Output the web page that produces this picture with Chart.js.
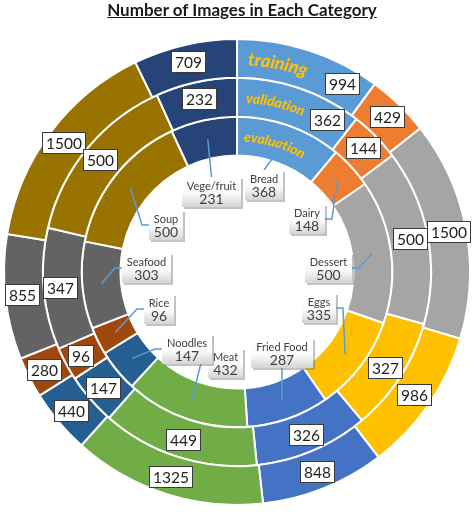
<!DOCTYPE html>
<html><head><meta charset="utf-8">
<script src="https://cdn.jsdelivr.net/npm/chart.js@4.4.0/dist/chart.umd.min.js"></script>
<style>
html,body{margin:0;padding:0;background:#fff;}
#wrap{position:relative;width:474px;height:512px;overflow:hidden;}
#title{position:absolute;top:0px;left:10px;width:464px;text-align:center;font:bold 17px Lato, "Open Sans", sans-serif;text-decoration:underline;color:#1a1a1a;line-height:20px;}
canvas{position:absolute;left:0;top:0;}
</style></head><body>
<div id="wrap"><canvas id="c" width="474" height="512"></canvas><div id="title">Number of Images in Each Category</div></div>
<script>
const categories = ['Bread','Dairy','Dessert','Eggs','Fried Food','Meat','Noodles','Rice','Seafood','Soup','Vege/fruit'];
const training   = [994, 429, 1500, 986, 848, 1325, 440, 280, 855, 1500, 709];
const validation = [362, 144, 500, 327, 326, 449, 147, 96, 347, 500, 232];
const evaluation = [368, 148, 500, 335, 287, 432, 147, 96, 303, 500, 231];
const ringNames  = ['training', 'validation', 'evaluation'];
const colors = ['#5B9BD5','#ED7D31','#A5A5A5','#FFC000','#4472C4','#70AD47','#255E91','#9E480E','#636363','#997300','#264478'];

// callout placement for the inner ring labels: [angle shift from slice middle (deg), radius as fraction of hole radius]
const calloutPlace = {
  'Bread':[-2.5,0.78], 'Dairy':[5.5,0.75], 'Dessert':[5.4,0.79], 'Eggs':[-13.3,0.77],
  'Fried Food':[-9.7,0.79], 'Meat':[-12,0.79], 'Noodles':[-17.6,0.79], 'Rice':[1,0.74],
  'Seafood':[7.7,0.78], 'Soup':[-4.8,0.73], 'Vege/fruit':[-5.6,0.72]
};
const FONT = 'Lato, "Open Sans", sans-serif';

const labelPlugin = {
  id: 'ringLabels',
  afterDatasetsDraw(chart) {
    const ctx = chart.ctx;
    ctx.save();
    // ring names along the arc of the first slice
    [0,1,2].forEach(di => {
      const arc = chart.getDatasetMeta(di).data[0];
      const p = arc.getProps(['x','y','startAngle','endAngle','innerRadius','outerRadius'], true);
      const r = (p.innerRadius + p.outerRadius) / 2 - 1;
      const size = di === 0 ? 18 : 14;
      ctx.font = 'italic 900 ' + size + 'px ' + FONT;
      ctx.fillStyle = '#FFC000';
      ctx.textAlign = 'left';
      ctx.textBaseline = 'middle';
      let a = p.startAngle + 3 * Math.PI / 180;
      const txt = chart.data.datasets[di].label;
      for (const ch of txt) {
        const w = ctx.measureText(ch).width;
        ctx.save();
        ctx.translate(p.x + r * Math.cos(a), p.y + r * Math.sin(a));
        ctx.rotate(a + Math.PI / 2);
        ctx.fillText(ch, 0, 0);
        ctx.restore();
        a += w / r;
      }
    });
    // value boxes on the outer two rings
    [0,1].forEach(di => {
      const meta = chart.getDatasetMeta(di);
      meta.data.forEach((arc, i) => {
        const p = arc.getProps(['x','y','startAngle','endAngle','innerRadius','outerRadius'], true);
        const f = i === 0 ? 0.81 : 0.5; // first slice carries the ring name
        const a = p.startAngle + (p.endAngle - p.startAngle) * f;
        const r = (p.innerRadius + p.outerRadius) / 2 + 2;
        const cx = p.x + r * Math.cos(a), cy = p.y + r * Math.sin(a);
        const txt = String(chart.data.datasets[di].data[i]);
        ctx.font = '15.5px ' + FONT;
        const w = Math.round(ctx.measureText(txt).width + 8), h = 22;
        const L = Math.round(cx - w / 2), T = Math.round(cy - h / 2);
        ctx.fillStyle = '#fff';
        ctx.fillRect(L, T, w, h);
        ctx.strokeStyle = '#3a3a3a';
        ctx.lineWidth = 1;
        ctx.strokeRect(L + 0.5, T + 0.5, w - 1, h - 1);
        ctx.fillStyle = '#1f1f1f';
        ctx.textAlign = 'center';
        ctx.textBaseline = 'middle';
        ctx.fillText(txt, L + w / 2, T + h / 2 + 1);
      });
    });
    // callouts for the inner ring
    const meta = chart.getDatasetMeta(2);
    meta.data.forEach((arc, i) => {
      const p = arc.getProps(['x','y','startAngle','endAngle','innerRadius','outerRadius'], true);
      const mid = (p.startAngle + p.endAngle) / 2;
      const rm = (p.innerRadius + p.outerRadius) / 2;
      const A = {x: p.x + rm * Math.cos(mid), y: p.y + rm * Math.sin(mid)};
      const name = categories[i];
      const val = String(chart.data.datasets[2].data[i]);
      const [shift, rf] = calloutPlace[name];
      const ba = mid + shift * Math.PI / 180;
      const br = p.innerRadius * rf;
      const bx = p.x + br * Math.cos(ba), by = p.y + br * Math.sin(ba);
      ctx.font = '11px ' + FONT; const w1 = ctx.measureText(name).width;
      ctx.font = '14px ' + FONT; const w2 = ctx.measureText(val).width;
      const w = Math.round(Math.max(w1, w2) + 10), h = 30;
      const L = Math.round(bx - w / 2), T = Math.round(by - h / 2), R = L + w, B = T + h;
      const cxb = L + w / 2, cyb = T + h / 2;
      // leader line
      ctx.strokeStyle = '#5B9BD5';
      ctx.lineWidth = 1.5;
      ctx.beginPath();
      if (A.x >= L - 5 && A.x <= R + 5) {
        if (A.y < T) { ctx.moveTo(cxb, T); } else { ctx.moveTo(cxb, B); }
        ctx.lineTo(A.x, A.y);
      } else if (A.x < L) {
        ctx.moveTo(L, cyb); ctx.lineTo(L - 7, cyb); ctx.lineTo(A.x, A.y);
      } else {
        ctx.moveTo(R, cyb); ctx.lineTo(R + 7, cyb); ctx.lineTo(A.x, A.y);
      }
      ctx.stroke();
      // box with shadow and soft gradient
      ctx.fillStyle = 'rgba(120,120,120,0.45)';
      ctx.fillRect(L + 2, T + 2, w, h);
      const g = ctx.createLinearGradient(0, T, 0, B);
      g.addColorStop(0, '#ffffff');
      g.addColorStop(0.55, '#fbfbfb');
      g.addColorStop(1, '#d4d4d4');
      ctx.fillStyle = g;
      ctx.fillRect(L, T, w, h);
      ctx.fillStyle = '#404040';
      ctx.textAlign = 'center';
      ctx.textBaseline = 'middle';
      ctx.font = '11px ' + FONT;
      ctx.fillText(name, cxb, T + 9);
      ctx.font = '14px ' + FONT;
      ctx.fillText(val, cxb, T + 22);
    });
    ctx.restore();
  }
};

new Chart(document.getElementById('c'), {
  type: 'doughnut',
  data: {
    labels: categories,
    datasets: [
      {label: ringNames[0], data: training, backgroundColor: colors, borderColor: '#ffffff', borderWidth: 2},
      {label: ringNames[1], data: validation, backgroundColor: colors, borderColor: '#ffffff', borderWidth: 2},
      {label: ringNames[2], data: evaluation, backgroundColor: colors, borderColor: '#ffffff', borderWidth: 2}
    ]
  },
  options: {
    responsive: false,
    animation: false,
    cutout: '50%',
    layout: {padding: {left: 3, right: 3, top: 38, bottom: 6}},
    plugins: {legend: {display: false}, tooltip: {enabled: false}, title: {display: false}}
  },
  plugins: [labelPlugin]
});
</script>
</body></html>
